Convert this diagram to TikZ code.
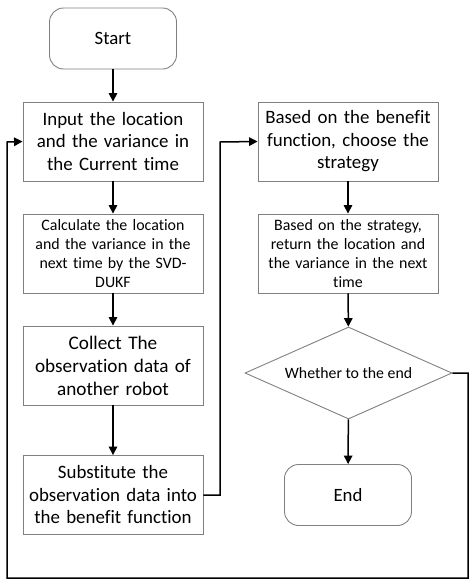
\documentclass[tikz,border=0pt]{standalone}
\usepackage{fontspec}
\setmainfont{Carlito}[Ligatures=NoCommon]
\usetikzlibrary{arrows.meta,shapes.geometric}
\begin{document}
\begin{tikzpicture}[x=1pt,y=-1pt,
  box/.style={draw=black!50,line width=0.9pt,minimum width=180pt,minimum height=79pt,align=center,inner sep=2pt,text width=176pt},
  term/.style={draw=black!50,line width=0.9pt,rounded corners=14pt,minimum width=127pt,minimum height=61pt,font=\fontsize{18.8}{22}\selectfont},
  dec/.style={draw=black!50,line width=0.9pt,diamond,aspect=2.25,minimum width=207pt,minimum height=92pt,inner sep=0pt,font=\fontsize{15.8}{19}\selectfont},
  arr/.style={draw=black,line width=1.5pt,-{Triangle[length=8.5pt,width=8.5pt]}},
  big/.style={font=\fontsize{18.9}{22.5}\selectfont},
  small/.style={font=\fontsize{15.9}{19}\selectfont},
  bigger/.style={font=\fontsize{19.2}{23}\selectfont}]
\useasboundingbox (0,0) rectangle (474,584);
\node[term] (start) at (113,38.5) {Start};
\node[box,big] (input) at (113,141.5) {Input the location\\ and the variance in\\ the Current time};
\node[box,small] (calc) at (113,253.5) {Calculate the location\\ and the variance in the\\ next time by the SVD-\\ DUKF};
\node[box,bigger] (collect) at (113,365.5) {Collect The\\ observation data of\\ another robot};
\node[box,big] (subst) at (113,495) {Substitute the\\ observation data into\\ the benefit function};
\node[box,big] (based) at (348,141.5) {Based on the benefit\\ function, choose the\\ strategy};
\node[box,small] (ret) at (348,253.5) {Based on the strategy,\\ return the location and\\ the variance in the next\\ time};
\node[dec] (end?) at (348.5,373) {Whether to the end};
\node[term] (end) at (348,495) {End};
\coordinate (c1) at (220,495);
\coordinate (c2) at (220,142);
\coordinate (d1) at (468,373);
\coordinate (d2) at (468,578);
\coordinate (d3) at (7,578);
\coordinate (d4) at (7,142);
\draw[arr] (start) -- (input);
\draw[arr] (input) -- (calc);
\draw[arr] (calc) -- (collect);
\draw[arr] (collect) -- (subst);
\draw[arr] (subst.east) -- (c1) -- (c2) -- (based.west);
\draw[arr] (based) -- (ret);
\draw[arr] (ret) -- (end?);
\draw[arr] (end?) -- (end);
\draw[arr] (end?.east) -- (d1) -- (d2) -- (d3) -- (d4) -- (input.west);
\end{tikzpicture}
\end{document}
